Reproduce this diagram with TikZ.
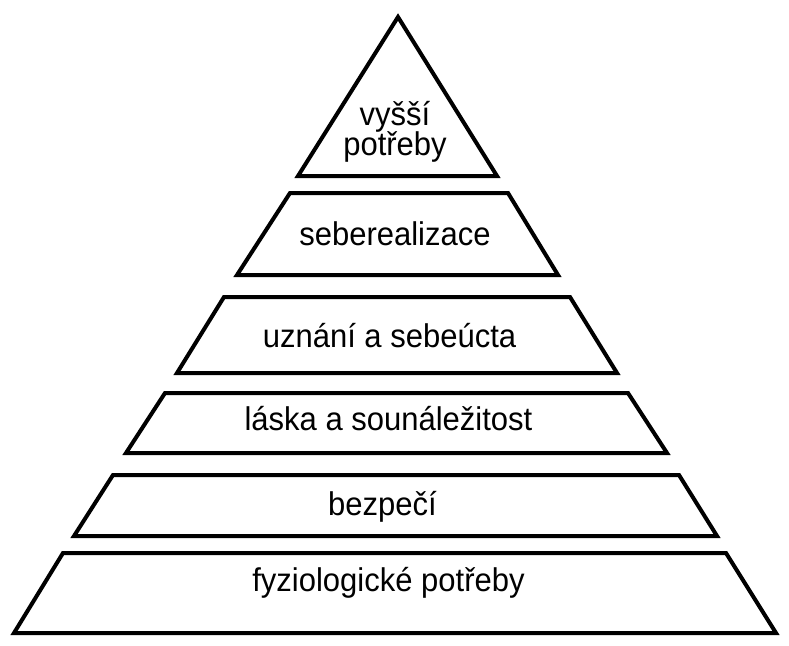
\documentclass[tikz,border=0pt]{standalone}
\usepackage{fontspec}
\setmainfont{Liberation Sans}
\newcommand{\lbltext}[1]{\scalebox{1}[1.06]{#1}}
\begin{document}
\begin{tikzpicture}[x=1pt,y=-1pt,
  level/.style={draw=black,line width=4pt,line join=miter,fill=white},
  lbl/.style={anchor=base,inner sep=0pt,font=\fontsize{31}{31}\selectfont}]
\useasboundingbox (0,0) rectangle (789,645);
% levels
\draw[level] (398,17) -- (497,176) -- (298,176) -- cycle;
\draw[level] (290,193) -- (508,193) -- (558,275) -- (237,275) -- cycle;
\draw[level] (224,297) -- (570,297) -- (617,373) -- (177,373) -- cycle;
\draw[level] (165,393) -- (628,393) -- (667,453) -- (126,453) -- cycle;
\draw[level] (113,475) -- (679,475) -- (717,536) -- (74,536) -- cycle;
\draw[level] (63,553) -- (726,553) -- (776,633) -- (14,633) -- cycle;
% labels
\node[lbl] (t1a) at (395,125) {\lbltext{vyšší}};
\node[lbl] (t1b) at (395,155) {\lbltext{potřeby}};
\node[lbl] (t2) at (395,245) {\lbltext{seberealizace}};
\node[lbl] (t3) at (389.5,347) {\lbltext{uznání a sebeúcta}};
\node[lbl] (t4) at (388.5,430) {\lbltext{láska a sounáležitost}};
\node[lbl] (t5) at (382.5,515) {\lbltext{bezpečí}};
\node[lbl] (t6) at (388.5,591) {\lbltext{fyziologické potřeby}};
\end{tikzpicture}
\end{document}
